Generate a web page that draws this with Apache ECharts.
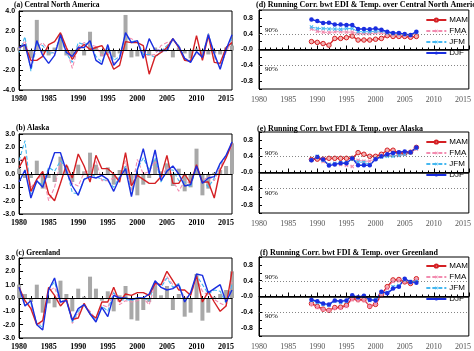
<!DOCTYPE html>
<html>
<head>
<meta charset="utf-8">
<script src="https://cdn.jsdelivr.net/npm/echarts@6/dist/echarts.min.js"></script>
<style>
html,body{margin:0;padding:0;background:#fff}
#main{width:474px;height:351px}
</style>
</head>
<body>
<div id="main"></div>
<script>
// 年份 (左列) 和 19年滑动窗口中心年份 (右列)
var years = [1980,1981,1982,1983,1984,1985,1986,1987,1988,1989,1990,1991,1992,1993,1994,1995,1996,1997,1998,1999,
             2000,2001,2002,2003,2004,2005,2006,2007,2008,2009,2010,2011,2012,2013,2014,2015,2016];
var winYears = [1989,1990,1991,1992,1993,1994,1995,1996,1997,1998,1999,2000,2001,2002,2003,2004,2005,2006,2007];

// (a) Central North America
var barsA = [0.3,0.5,-0.8,3.1,-0.2,-0.5,0.3,1.6,-0.5,-0.5,0.3,-0.5,1.9,0.3,-0.6,-0.3,-0.7,-0.3,3.6,-0.7,-0.6,-0.4,-0.5,0.3,-0.2,0.2,-0.7,0.3,-0.3,-0.8,0.2,-0.5,-0.4,-0.3,-0.4,0.3,0.5];
var mamA = [0.3,0.6,-1.0,-1.0,-0.6,0.6,0.9,1.8,0.3,-0.9,0.1,0.6,0.1,0.3,0.5,-0.5,-1.9,-1.5,0.9,0.8,0.8,0.5,-2.4,-0.6,-0.2,0.3,1.2,0.3,-1.0,-1.1,1.5,-1.0,1.5,-1.2,-1.3,0.3,0.8];
var fmaA = [0.0,1.0,-1.6,0.3,0.8,0.0,-0.3,1.5,0.2,-1.8,0.4,0.8,0.6,0.4,-0.5,-0.3,-1.3,-0.8,1.4,1.2,0.8,-0.3,-0.5,-0.4,0.5,0.8,1.0,0.5,-0.8,-1.0,-0.3,-0.6,1.8,-0.7,-1.6,-0.2,1.0];
var jfmA = [-0.2,1.4,-2.1,0.6,0.5,-0.3,-0.2,1.4,-0.3,-1.2,0.8,0.6,0.8,-0.6,-1.2,0.3,-1.0,-0.6,1.5,0.9,1.0,-0.4,-0.4,-0.7,-0.1,0.5,1.1,0.5,-0.8,-1.1,-0.2,-0.5,1.7,-0.5,-1.8,0.0,1.3];
var djfA = [0.3,0.6,-1.8,1.0,-0.5,-1.3,-0.5,1.6,-0.2,-0.6,0.3,0.3,1.0,-1.0,-1.4,0.6,-1.5,-0.8,1.8,0.8,1.0,-0.8,1.2,0.0,0.0,0.0,1.2,0.4,-0.8,-1.2,-0.1,-0.7,1.6,-0.3,-1.9,0.1,1.6];

// (b) Alaska
var barsB = [0.4,-0.3,-0.3,1.0,-1.1,-0.3,-0.6,1.3,0.6,-0.6,0.7,0.2,1.6,0.7,0.0,0.5,-0.8,0.3,0.5,-0.8,-1.6,-0.8,-0.3,1.1,0.2,0.8,-0.9,0.4,-1.3,-1.0,1.9,-1.6,-1.1,0.1,0.3,0.6,2.3];
var mamB = [0.5,1.3,-1.3,-0.4,0.2,-1.5,-2.0,-0.7,0.7,-0.3,1.5,0.6,-0.6,1.4,0.4,0.4,0.0,-0.6,1.6,-0.9,-0.1,-0.4,-0.7,-0.7,-0.2,1.4,-0.7,-0.7,0.0,-0.7,0.7,-0.6,-0.6,-1.8,0.3,1.2,2.3];
var fmaB = [1.0,1.2,-1.0,-0.5,0.0,-2.0,-1.0,0.9,0.5,-0.7,-0.9,0.1,0.3,1.0,-0.5,-0.5,-0.3,-0.3,1.0,-1.3,1.1,0.0,0.2,1.0,-0.3,0.5,-0.5,-1.3,-0.5,-0.7,0.5,-0.5,-0.2,-0.5,0.5,1.3,2.1];
var jfmB = [1.0,2.5,-1.5,-0.6,-0.8,0.5,0.2,1.0,0.4,-1.4,-1.5,-0.4,0.0,-0.2,-0.4,-0.5,-1.0,-0.2,0.6,-1.5,0.4,1.2,0.3,1.2,-0.6,0.3,0.3,-0.5,-0.6,-1.0,0.6,-0.4,-1.0,-0.3,0.7,1.4,2.2];
var djfB = [-0.6,0.3,-1.8,-0.5,-1.0,0.3,1.6,1.6,0.2,-0.9,-1.6,-0.4,-0.2,-0.3,-0.1,-0.4,-1.3,-0.3,0.4,-1.7,0.3,1.9,0.0,1.8,-0.5,0.2,0.6,0.0,-0.9,-0.8,0.6,-0.7,-0.3,-0.2,0.8,1.4,2.4];

// (c) Greenland
var barsC = [1.0,0.3,-0.3,1.0,-1.1,-0.4,-0.7,1.3,0.3,-1.0,0.7,0.1,1.6,0.7,-0.2,0.5,-1.0,0.2,0.9,-1.6,-1.7,-0.9,-0.3,1.1,0.2,0.9,-0.9,0.3,-1.4,-1.1,1.8,-1.7,-1.1,0.1,0.3,0.6,2.0];
var mamC = [0.8,-0.2,-0.8,-2.0,-1.7,0.8,0.2,-0.6,-0.1,-1.6,-1.5,-0.4,-1.2,-1.5,-0.3,-0.3,0.8,-0.3,0.3,0.2,0.4,0.4,0.2,1.1,1.0,2.0,1.3,0.6,0.6,0.2,1.7,-0.3,0.5,-0.3,-1.0,-0.6,2.0];
var fmaC = [0.8,-0.4,-0.6,-1.9,-2.0,0.5,0.8,-0.4,0.0,-1.9,-1.2,-0.5,-1.0,-1.6,-0.5,-0.7,0.5,-0.5,-0.2,-0.3,-0.2,0.0,-0.5,1.0,1.0,1.6,1.0,0.9,0.0,0.2,1.5,0.5,0.2,-0.1,-0.4,-0.6,1.2];
var jfmC = [0.8,-0.5,-0.4,-1.9,-2.2,0.7,1.2,-0.3,-0.1,-1.8,-1.0,-0.5,-1.1,-1.7,-0.6,-1.0,0.4,-0.2,-0.1,-0.2,0.0,0.0,-0.2,1.2,0.8,1.5,0.8,1.1,-0.2,0.3,1.7,1.0,0.3,0.6,0.5,-0.4,1.0];
var djfC = [0.8,-0.6,-0.2,-2.0,-2.4,0.6,1.5,-0.3,-0.2,-1.7,-0.8,-0.5,-1.2,-1.8,-0.7,-1.4,0.2,0.0,0.0,-0.1,0.0,0.0,0.3,1.3,0.8,0.6,0.7,1.0,-0.3,0.4,1.8,1.7,0.4,0.7,1.0,-0.3,0.6];

// (d) 滑动相关 Central North America
var mamD = [0.20,0.18,0.15,0.11,0.28,0.28,0.30,0.34,0.24,0.24,0.24,0.26,0.28,0.35,0.33,0.33,0.33,0.31,0.33];
var fmaD = [0.52,0.46,0.44,0.43,0.45,0.45,0.44,0.44,0.40,0.40,0.40,0.42,0.42,0.40,0.38,0.38,0.36,0.34,0.42];
var jfmD = [0.57,0.53,0.53,0.52,0.52,0.51,0.53,0.53,0.45,0.45,0.45,0.46,0.47,0.42,0.40,0.40,0.38,0.36,0.44];
var djfD = [0.76,0.72,0.67,0.68,0.63,0.63,0.62,0.62,0.52,0.52,0.51,0.53,0.50,0.45,0.42,0.42,0.39,0.37,0.45];

// (e) Alaska
var mamE = [0.32,0.33,0.33,0.35,0.35,0.35,0.35,0.35,0.49,0.45,0.40,0.40,0.45,0.55,0.55,0.48,0.48,0.50,0.62];
var fmaE = [0.30,0.38,0.27,0.20,0.22,0.20,0.18,0.15,0.30,0.28,0.28,0.33,0.38,0.42,0.42,0.42,0.45,0.48,0.58];
var jfmE = [0.30,0.40,0.30,0.20,0.22,0.24,0.25,0.33,0.26,0.25,0.20,0.33,0.38,0.40,0.40,0.42,0.45,0.48,0.60];
var djfE = [0.30,0.38,0.32,0.17,0.20,0.23,0.23,0.35,0.18,0.18,0.18,0.33,0.40,0.45,0.48,0.50,0.52,0.50,0.62];

// (f) Greenland
var mamF = [-0.18,-0.25,-0.32,-0.35,-0.28,-0.27,-0.22,-0.05,-0.08,-0.08,-0.25,-0.20,0.05,0.25,0.42,0.43,0.37,0.33,0.45];
var fmaF = [-0.20,-0.28,-0.33,-0.35,-0.30,-0.30,-0.25,-0.08,-0.10,-0.10,-0.25,-0.18,0.02,0.20,0.38,0.40,0.38,0.36,0.42];
var jfmF = [-0.10,-0.15,-0.20,-0.22,-0.12,-0.15,-0.12,0.02,-0.03,0.00,-0.10,-0.08,0.10,0.10,0.25,0.28,0.42,0.38,0.38];
var djfF = [-0.08,-0.12,-0.18,-0.20,-0.10,-0.12,-0.10,0.03,-0.02,0.02,-0.08,-0.10,0.12,0.08,0.20,0.25,0.45,0.37,0.35];

var sig90 = 0.389;

var chart = echarts.init(document.getElementById('main'));

function pairs(xs, ys) {
    return ys.map(function (v, i) { return [xs[i], v]; });
}

var C_MAM = '#d42024', C_FMA = '#f28cb0', C_JFM = '#45b8f0', C_DJF = '#1a2ee0';
var crossPath = 'path://M2,0L5,3L8,0L10,2L7,5L10,8L8,10L5,7L2,10L0,8L3,5L0,2Z';

var grids = [
    {left: 17, width: 215, top: 11, height: 79},
    {left: 17, width: 215, top: 134, height: 80},
    {left: 17, width: 215, top: 258, height: 80},
    {left: 259, width: 214, top: 10, height: 79},
    {left: 259, width: 214, top: 132, height: 81},
    {left: 259, width: 214, top: 257, height: 80}
];
grids.forEach(function (g) { g.show = true; g.borderColor = '#000'; g.borderWidth = 1; });

var xAxes = grids.map(function (g, i) {
    return {
        type: 'value', gridIndex: i, min: 1980, max: 2016, interval: 5,
        axisLine: {lineStyle: {color: '#000', width: 1}},
        axisTick: {inside: true, length: 4, lineStyle: {color: '#000'}},
        minorTick: {show: true, splitNumber: 5, length: 2, lineStyle: {color: '#000'}},
        splitLine: {show: false},
        axisLabel: {fontSize: 8, color: i < 3 ? '#000' : '#555', fontFamily: 'Liberation Serif',
                    fontWeight: i < 3 ? 'bold' : 'normal',
                    margin: i < 3 ? 5 : 7, formatter: function (v) { return v; }}
    };
});

function leftY(i, lim, step) {
    return {
        type: 'value', gridIndex: i, min: -lim, max: lim, interval: step,
        axisLine: {show: true, lineStyle: {color: '#000'}},
        axisTick: {inside: true, length: 4, lineStyle: {color: '#000'}},
        minorTick: {show: true, splitNumber: step === 2 ? 4 : 2, length: 2, lineStyle: {color: '#000'}},
        splitLine: {show: false},
        axisLabel: {fontSize: 7, color: '#000', fontFamily: 'Liberation Sans', fontWeight: 'bold', margin: 4,
                    formatter: function (v) { return v.toFixed(1); }}
    };
}
function rightY(i) {
    return {
        type: 'value', gridIndex: i, min: -1, max: 1, interval: 0.2,
        axisLine: {show: true, lineStyle: {color: '#000'}},
        axisTick: {inside: true, length: 3, lineStyle: {color: '#000'}},
        splitLine: {show: false},
        axisLabel: {fontSize: 7, color: '#000', fontFamily: 'Liberation Sans', fontWeight: 'bold', margin: 6,
                    formatter: function (v) {
                        var r = Math.round(v * 10) / 10;
                        if (Math.abs(r) < 0.01) return '-0.0';
                        if (Math.abs(Math.abs(r) - 0.4) < 0.01 || Math.abs(Math.abs(r) - 0.8) < 0.01) return r.toFixed(1);
                        return '';
                    }}
    };
}
var yAxes = [leftY(0, 4, 2), leftY(1, 3, 1), leftY(2, 3, 1), rightY(3), rightY(4), rightY(5)];

var series = [];

function leftPanel(i, bars, mam, fma, jfm, djf) {
    series.push({
        type: 'bar', xAxisIndex: i, yAxisIndex: i, data: pairs(years, bars),
        barWidth: 4, itemStyle: {color: '#a8a8a8'}, silent: true,
        markLine: {silent: true, symbol: 'none', label: {show: false},
                   lineStyle: {color: '#000', width: 1, type: 'solid'}, data: [{yAxis: 0}]}
    });
    var defs = [[fma, C_FMA, 'dashed'], [jfm, C_JFM, 'dashed'], [mam, C_MAM, 'solid'], [djf, C_DJF, 'solid']];
    defs.forEach(function (d) {
        series.push({
            type: 'line', xAxisIndex: i, yAxisIndex: i, data: pairs(years, d[0]),
            showSymbol: false, symbol: 'none', silent: true,
            lineStyle: {color: d[1], width: d[2] === 'solid' ? 1.4 : 1.1, type: d[2] === 'solid' ? 'solid' : [4, 2]}
        });
    });
}
leftPanel(0, barsA, mamA, fmaA, jfmA, djfA);
leftPanel(1, barsB, mamB, fmaB, jfmB, djfB);
leftPanel(2, barsC, mamC, fmaC, jfmC, djfC);

function rightPanel(i, mam, fma, jfm, djf) {
    series.push({
        name: 'MAM', type: 'line', xAxisIndex: i, yAxisIndex: i, data: pairs(winYears, mam),
        symbol: 'circle', symbolSize: 4.5,
        lineStyle: {color: C_MAM, width: 1.4},
        itemStyle: {color: '#f4b4b4', borderColor: C_MAM, borderWidth: 1},
        markLine: {
            silent: true, symbol: 'none',
            data: [
                {yAxis: 0, lineStyle: {color: '#000', width: 1.5, type: 'solid'}, label: {show: false}},
                {yAxis: sig90, lineStyle: {color: '#666', width: 0.8, type: [1, 2]},
                 label: {show: true, formatter: '90%', position: 'insideStartTop', distance: [6, 0],
                         fontSize: 7, color: '#000', fontFamily: 'Liberation Serif'}},
                {yAxis: -sig90, lineStyle: {color: '#666', width: 0.8, type: [1, 2]},
                 label: {show: true, formatter: '90%', position: 'insideStartBottom', distance: [6, 1],
                         fontSize: 7, color: '#000', fontFamily: 'Liberation Serif'}}
            ]
        }
    });
    series.push({
        name: 'FMA', type: 'line', xAxisIndex: i, yAxisIndex: i, data: pairs(winYears, fma),
        symbol: crossPath, symbolSize: 4,
        lineStyle: {color: C_FMA, width: 1, type: [4, 2]},
        itemStyle: {color: C_FMA}
    });
    series.push({
        name: 'JFM', type: 'line', xAxisIndex: i, yAxisIndex: i, data: pairs(winYears, jfm),
        symbol: crossPath, symbolSize: 4,
        lineStyle: {color: C_JFM, width: 1, type: [4, 2]},
        itemStyle: {color: C_JFM}
    });
    series.push({
        name: 'DJF', type: 'line', xAxisIndex: i, yAxisIndex: i, data: pairs(winYears, djf),
        symbol: 'circle', symbolSize: 4.5,
        lineStyle: {color: C_DJF, width: 1.4},
        itemStyle: {color: C_DJF}
    });
}
rightPanel(3, mamD, fmaD, jfmD, djfD);
rightPanel(4, mamE, fmaE, jfmE, djfE);
rightPanel(5, mamF, fmaF, jfmF, djfF);

function legendAt(top) {
    return {
        data: ['MAM', 'FMA', 'JFM', 'DJF'], orient: 'vertical', right: 1, top: top,
        itemWidth: 20, itemHeight: 4, itemGap: 3, selectedMode: false,
        textStyle: {fontSize: 8, color: '#000', fontFamily: 'Liberation Sans', padding: [0, 0, 0, -2]}
    };
}

var titleStyle = {fontSize: 7.5, fontFamily: 'Liberation Serif', fontWeight: 'bold', color: '#000'};
function ttl(text, left, top, size) {
    return {text: text, left: left, top: top, padding: 0,
            textStyle: Object.assign({}, titleStyle, {fontSize: size})};
}

var option = {
    animation: false,
    backgroundColor: '#fff',
    title: [
        ttl('(a) Central North America', 14, 1, 7.5),
        ttl('(b) Alaska', 16, 124, 7.5),
        ttl('(c) Greenland', 16, 249, 7.5),
        ttl('(d) Running Corr. bwt EDI & Temp. over Central North Americ', 256, 1, 8),
        ttl('(e) Running Corr. bwt FDI & Temp. over Alaska', 257, 125, 8),
        ttl('(f) Running Corr. bwt FDI & Temp. over Greenland', 260, 249, 8)
    ],
    legend: [legendAt(11), legendAt(133), legendAt(257)],
    grid: grids,
    xAxis: xAxes,
    yAxis: yAxes,
    series: series
};

chart.setOption(option);
</script>
</body>
</html>
